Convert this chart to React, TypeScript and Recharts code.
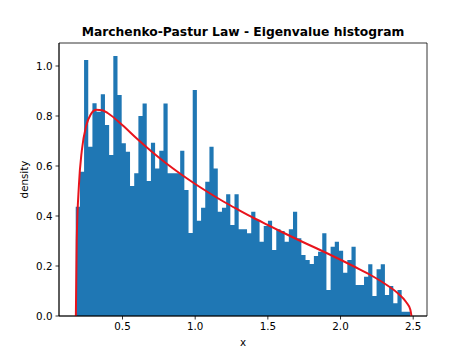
import { ComposedChart, Area, Line, XAxis, YAxis, ReferenceArea } from "recharts";

// histogram: 80 bins starting at the lower edge of the spectrum
const binStart = 0.178;
const binWidth = 0.02875;
const binHeights = [
  0.437, 0.577, 1.024, 0.677, 0.851, 0.817, 0.887, 0.764, 0.644, 1.04,
  0.884, 0.691, 0.657, 0.52, 0.571, 0.8, 0.85, 0.54, 0.693, 0.59,
  0.661, 0.85, 0.571, 0.571, 0.571, 0.661, 0.504, 0.332, 0.904, 0.381,
  0.433, 0.537, 0.677, 0.59, 0.417, 0.433, 0.487, 0.364, 0.487, 0.347,
  0.347, 0.331, 0.417, 0.384, 0.297, 0.36, 0.381, 0.264, 0.347, 0.34,
  0.297, 0.347, 0.417, 0.311, 0.244, 0.224, 0.208, 0.24, 0.257, 0.331,
  0.104, 0.277, 0.297, 0.261, 0.173, 0.224, 0.277, 0.124, 0.124, 0.157,
  0.207, 0.08, 0.187, 0.207, 0.084, 0.12, 0.051, 0.104, 0.017, 0.017,
];

// red theoretical density curve
const curveX = [
  0.179, 0.185, 0.2, 0.22, 0.25, 0.28, 0.32, 0.36, 0.4, 0.5, 0.6, 0.7, 0.8, 0.9, 1.0,
  1.1, 1.2, 1.3, 1.4, 1.5, 1.6, 1.7, 1.8, 1.9, 2.0, 2.1, 2.2, 2.3, 2.4, 2.45, 2.48, 2.488,
];
const curveY = [
  0, 0.303, 0.523, 0.662, 0.761, 0.805, 0.825, 0.823, 0.811, 0.763, 0.709, 0.658, 0.611, 0.568, 0.528,
  0.491, 0.456, 0.424, 0.393, 0.364, 0.335, 0.307, 0.28, 0.253, 0.225, 0.196, 0.166, 0.131, 0.088, 0.057, 0.026, 0,
];

const xTicks = [0.5, 1.0, 1.5, 2.0, 2.5];
const yTicks = [0, 0.2, 0.4, 0.6, 0.8, 1.0];

const xMin = 0.063;
const xMax = 2.595;
const yMax = 1.092;

const histData = binHeights
  .map((h, i) => ({ x: binStart + i * binWidth, y: h }))
  .concat([{ x: binStart + binHeights.length * binWidth, y: 0 }]);
const curveData = curveX.map((x, i) => ({ x, y: curveY[i] }));

const font = "DejaVu Sans, sans-serif";

export default function App() {
  return (
    <div style={{ position: "absolute", left: 0, top: 0, width: 474, height: 355, background: "#fff", fontFamily: font }}>
      <div
        style={{
          position: "absolute",
          left: 59,
          top: 24,
          width: 368,
          textAlign: "center",
          fontSize: 12.3,
          fontWeight: "bold",
          lineHeight: "16px",
          color: "#000",
        }}
      >
        Marchenko-Pastur Law - Eigenvalue histogram
      </div>
      <ComposedChart width={474} height={355} margin={{ top: 43, right: 47, left: 0, bottom: 0 }}>
        <XAxis
          dataKey="x"
          type="number"
          domain={[xMin, xMax]}
          ticks={xTicks}
          allowDataOverflow
          height={39}
          tickSize={3.5}
          tickMargin={3}
          tick={{ fontSize: 10.3, fill: "#000", fontFamily: font }}
          tickFormatter={(v: number) => v.toFixed(1)}
          axisLine={{ stroke: "#000", strokeWidth: 0.8 }}
          tickLine={{ stroke: "#000", strokeWidth: 0.8 }}
          label={{ value: "x", position: "insideBottom", offset: 9, fontSize: 10.3, fill: "#000", fontFamily: font }}
        />
        <YAxis
          type="number"
          domain={[0, yMax]}
          ticks={yTicks}
          allowDataOverflow
          width={59}
          tickSize={3.5}
          tickMargin={3}
          tick={{ fontSize: 10.3, fill: "#000", fontFamily: font }}
          tickFormatter={(v: number) => v.toFixed(1)}
          axisLine={{ stroke: "#000", strokeWidth: 0.8 }}
          tickLine={{ stroke: "#000", strokeWidth: 0.8 }}
          label={{
            value: "density",
            angle: -90,
            position: "insideLeft",
            offset: 24,
            fontSize: 10.3,
            fill: "#000",
            fontFamily: font,
            style: { textAnchor: "middle" },
          }}
        />
        <Area
          data={histData}
          dataKey="y"
          type="stepAfter"
          fill="#1f77b4"
          fillOpacity={1}
          stroke="none"
          isAnimationActive={false}
        />
        <Line
          data={curveData}
          dataKey="y"
          type="monotone"
          stroke="#e8141c"
          strokeWidth={2}
          dot={false}
          isAnimationActive={false}
        />
        <ReferenceArea x1={xMin} x2={xMax} y1={0} y2={yMax} fill="none" stroke="#000" strokeWidth={0.8} />
      </ComposedChart>
    </div>
  );
}
